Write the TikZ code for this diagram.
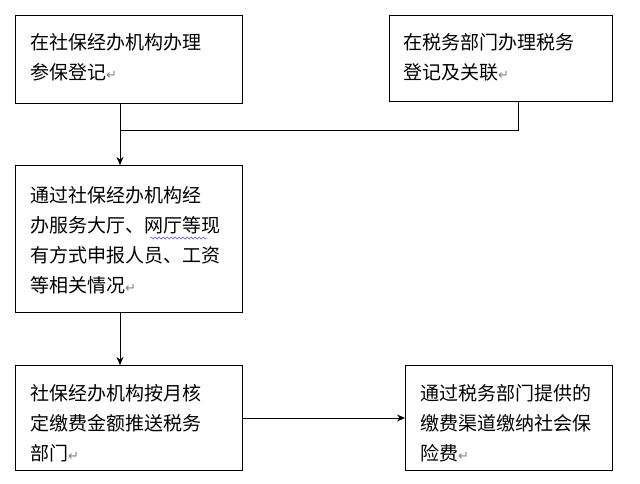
\documentclass[tikz,border=0pt]{standalone}
\usepackage{fontspec}
\setmainfont{Noto Sans CJK SC}
\newfontfamily\djv{DejaVu Sans}
\usetikzlibrary{arrows.meta,decorations.pathmorphing}
\newcommand{\rt}{{\djv\color{gray}\fontsize{13}{13}\selectfont ↵}}
\begin{document}
\begin{tikzpicture}[x=1pt,y=-1pt,
  boxx/.style={draw,line width=1pt},
  txt/.style={anchor=north west,align=left,inner sep=0pt,font=\fontsize{19}{30}\selectfont},
  arr/.style={line width=1pt,-{Stealth[length=8pt,width=7pt]}}]
\useasboundingbox[fill=white] (0,0) rectangle (640,483);
\node[boxx,minimum width=227,minimum height=88,anchor=north west,inner sep=0pt] (n1) at (15,15) {};
\node[boxx,minimum width=223,minimum height=86,anchor=north west,inner sep=0pt] (n2) at (389,15) {};
\node[boxx,minimum width=227,minimum height=147,anchor=north west,inner sep=0pt] (n3) at (15,165) {};
\node[boxx,minimum width=227,minimum height=105,anchor=north west,inner sep=0pt] (n4) at (15,365) {};
\node[boxx,minimum width=207,minimum height=105,anchor=north west,inner sep=0pt] (n5) at (405,365) {};
\node[txt] (t1) at (30,33) {在社保经办机构办理\\参保登记\rt};
\node[txt] (t2) at (403,33) {在税务部门办理税务\\登记及关联\rt};
\node[txt] (t3) at (30,186) {通过社保经办机构经\\办服务大厅、网厅等现\\有方式申报人员、工资\\等相关情况\rt};
\node[txt] (t4) at (30,384) {社保经办机构按月核\\定缴费金额推送税务\\部门\rt};
\node[txt] (t5) at (420,384) {通过税务部门提供的\\缴费渠道缴纳社会保\\险费\rt};
\coordinate (j) at (120,130);
\draw[line width=1pt] (n2.south -| 518,0) -- (518,130) -- (j);
\draw[arr] (n1.south -| j) -- (n3.north -| j);
\draw[arr] (n3.south -| j) -- (n4.north -| j);
\draw[arr] (n4.east) -- (n5.west);
\coordinate (w1) at (150,238); \coordinate (w2) at (207,238);
\draw[blue!70,decorate,decoration={snake,segment length=4,amplitude=1}] (w1) -- (w2);
\end{tikzpicture}
\end{document}
